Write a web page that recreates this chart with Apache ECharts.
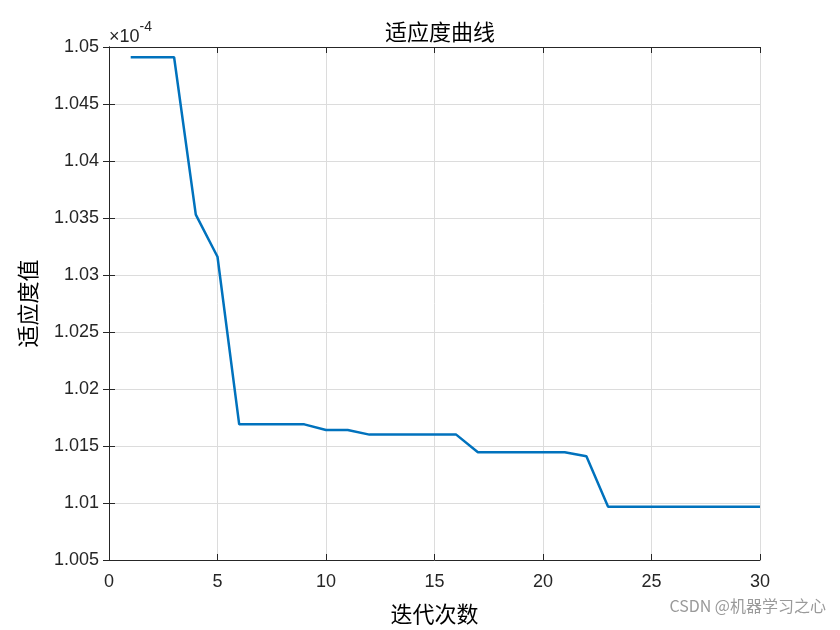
<!DOCTYPE html>
<html><head><meta charset="utf-8">
<script src="https://cdn.jsdelivr.net/npm/echarts@6/dist/echarts.min.js"></script>
<style>html,body{margin:0;padding:0;background:#fff}#c{width:840px;height:630px}</style>
</head><body><div id="c"></div>
<script>
const iterations = [1,2,3,4,5,6,7,8,9,10,11,12,13,14,15,16,17,18,19,20,21,22,23,24,25,26,27,28,29,30];
const fitness = [1.0491,1.0491,1.0491,1.0353,1.0316,1.0169,1.0169,1.0169,1.0169,1.0164,1.0164,1.0160,1.0160,1.0160,1.0160,1.0160,1.01445,1.01445,1.01445,1.01445,1.01445,1.0141,1.00967,1.00967,1.00967,1.00967,1.00967,1.00967,1.00967,1.00967];
const yTicks = ['1.005','1.01','1.015','1.02','1.025','1.03','1.035','1.04','1.045','1.05'];

const chart = echarts.init(document.getElementById('c'));
const labelFont = {color:'#262626', fontSize:18, fontFamily:'Liberation Sans, Arial, sans-serif'};
const cjk = 'Noto Sans CJK SC';
chart.setOption({
  animation:false,
  title:{text:'适应度曲线', left:435, top:16, textAlign:'center', textStyle:{fontFamily:cjk, fontSize:22, fontWeight:'normal', color:'#000'}},
  grid:{left:109, right:80, top:47, bottom:70},
  xAxis:[{
    type:'value', min:0, max:30, interval:5,
    name:'迭代次数', nameLocation:'middle', nameGap:43,
    nameTextStyle:{fontFamily:cjk, fontSize:22, color:'#000'},
    axisLine:{show:true, lineStyle:{color:'#262626', width:1}},
    axisTick:{show:true, inside:true, length:6, lineStyle:{color:'#262626'}},
    axisLabel:Object.assign({margin:13}, labelFont),
    splitLine:{show:true, lineStyle:{color:'#dcdcdc', width:1}}
  },{
    type:'value', min:0, max:30, interval:5, position:'top',
    axisLine:{show:true, lineStyle:{color:'#262626', width:1}},
    axisTick:{show:true, inside:true, length:6, lineStyle:{color:'#262626'}},
    axisLabel:{show:false}, splitLine:{show:false}
  }],
  yAxis:[{
    type:'value', min:1.005, max:1.05, interval:0.005,
    name:'适应度值', nameLocation:'middle', nameGap:70,
    nameTextStyle:{fontFamily:cjk, fontSize:22, color:'#000'},
    axisLine:{show:true, lineStyle:{color:'#262626', width:1}},
    axisTick:{show:true, inside:true, length:6, lineStyle:{color:'#262626'}},
    axisLabel:Object.assign({margin:10, formatter:function(v){
      const i = Math.round((v-1.005)/0.005); return yTicks[i] !== undefined ? yTicks[i] : '';
    }}, labelFont),
    splitLine:{show:true, lineStyle:{color:'#dcdcdc', width:1}}
  },{
    type:'value', min:1.005, max:1.05, interval:0.005, position:'right',
    axisLine:{show:true, lineStyle:{color:'#262626', width:1}},
    axisTick:{show:true, inside:true, length:6, lineStyle:{color:'#262626'}},
    axisLabel:{show:false}, splitLine:{show:false}
  }],
  series:[{
    type:'line', data:iterations.map((x,i)=>[x, fitness[i]]),
    showSymbol:false, lineStyle:{color:'#0072BD', width:2.5}, itemStyle:{color:'#0072BD'}
  }],
  graphic:[
    {type:'text', left:109, top:20, style:{text:'{a|×10}{b|-4}', rich:{
      a:{fontSize:18, fontFamily:'Liberation Sans, Arial, sans-serif', fill:'#262626', padding:[8,0,0,0]},
      b:{fontSize:14, fontFamily:'Liberation Sans, Arial, sans-serif', fill:'#262626', verticalAlign:'top'}}}},
    {type:'text', right:14, top:598, style:{text:'CSDN @机器学习之心', fontSize:16, fontFamily:cjk, fill:'#9a9a9a'}}
  ]
});
</script></body></html>
